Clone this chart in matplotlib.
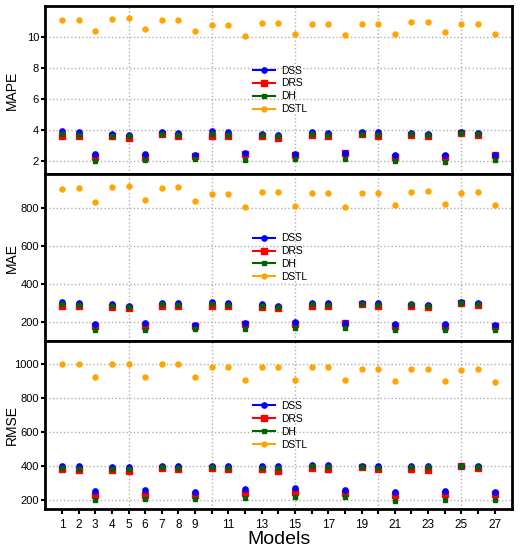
import matplotlib
matplotlib.use("Agg")
import matplotlib.pyplot as plt
from matplotlib.lines import Line2D

plt.rcParams["font.family"] = ["Liberation Sans", "DejaVu Sans"]

# =========================
# DATA
# =========================
models = list(range(1, 28))

mape_dss = [3.93, 3.85, 2.41, 3.74, 3.67, 2.43, 3.87, 3.78, 2.33, 3.89, 3.83, 2.48, 3.74, 3.67,
            2.43, 3.85, 3.78, 2.48, 3.83, 3.83, 2.37, 3.78, 3.74, 2.37, 3.83, 3.78, 2.37]
mape_drs = [3.61, 3.57, 2.26, 3.57, 3.46, 2.26, 3.72, 3.61, 2.30, 3.61, 3.57, 2.43, 3.57, 3.46,
            2.37, 3.67, 3.61, 2.48, 3.72, 3.61, 2.26, 3.67, 3.57, 2.22, 3.78, 3.67, 2.33]
mape_dh = [3.74, 3.67, 1.98, 3.61, 3.57, 2.04, 3.74, 3.67, 2.09, 3.72, 3.67, 2.04, 3.63, 3.57,
           2.09, 3.72, 3.67, 2.11, 3.74, 3.67, 1.98, 3.72, 3.67, 1.93, 3.78, 3.72, 2.04]
mape_dstl = [11.08, 11.08, 10.39, 11.19, 11.23, 10.49, 11.12, 11.12, 10.41, 10.78, 10.80, 10.08,
             10.91, 10.93, 10.19, 10.84, 10.84, 10.10, 10.84, 10.86, 10.19, 10.95, 10.97, 10.30,
             10.86, 10.86, 10.21]

mae_dss = [306, 302, 193, 294, 288, 196, 302, 299, 188, 306, 302, 196, 294, 288,
           200, 302, 299, 196, 302, 302, 191, 294, 290, 191, 306, 302, 188]
mae_drs = [285, 285, 179, 279, 274, 182, 288, 285, 182, 285, 285, 193, 279, 276,
           193, 288, 285, 196, 294, 285, 182, 285, 279, 182, 302, 290, 182]
mae_dh = [294, 290, 158, 285, 279, 161, 294, 290, 165, 294, 290, 165, 285, 281,
          170, 294, 290, 170, 294, 290, 158, 294, 285, 161, 302, 294, 161]
mae_dstl = [902, 904, 832, 911, 913, 841, 906, 908, 835, 874, 876, 803, 885, 886,
            812, 878, 881, 805, 878, 881, 814, 886, 890, 823, 881, 883, 816]

rmse_dss = [398, 398, 255, 394, 394, 259, 398, 398, 249, 401, 403, 265, 401, 403,
            269, 407, 407, 259, 398, 398, 249, 398, 398, 253, 401, 398, 245]
rmse_drs = [384, 378, 230, 378, 372, 230, 388, 384, 230, 388, 384, 243, 384, 374,
            245, 390, 384, 243, 392, 384, 230, 384, 378, 236, 398, 388, 236]
rmse_dh = [388, 384, 200, 384, 382, 204, 392, 388, 206, 392, 388, 214, 388, 388,
           220, 398, 394, 220, 394, 388, 196, 392, 392, 200, 398, 392, 200]
rmse_dstl = [1004, 1004, 925, 1002, 1004, 925, 1000, 1002, 925, 982, 984, 911, 982, 984,
             911, 982, 982, 907, 972, 972, 901, 972, 974, 901, 970, 972, 897]

xtick_labels = [str(m) if (m < 10 or m % 2 == 1) else "" for m in models]

# =========================
# STYLE
# =========================
series_style = [
    ("DSS", "#0000ff", "o", 3.8, 3),
    ("DRS", "#ff0000", "s", 4.4, 2),
    ("DH", "#006400", "s", 3.0, 4),
    ("DSTL", "#ffa500", "o", 3.6, 5),
]

panels = [
    ("MAPE", [mape_dss, mape_drs, mape_dh, mape_dstl], (1.15, 12.0), [2, 4, 6, 8, 10]),
    ("MAE", [mae_dss, mae_drs, mae_dh, mae_dstl], (100, 980), [200, 400, 600, 800]),
    ("RMSE", [rmse_dss, rmse_drs, rmse_dh, rmse_dstl], (147, 1136), [200, 400, 600, 800, 1000]),
]

fig, axes = plt.subplots(3, 1, figsize=(5.21, 5.5), dpi=100, sharex=True)
fig.subplots_adjust(left=0.087, right=0.983, top=0.989, bottom=0.0745, hspace=0)

for ax, (name, series, ylim, yticks) in zip(axes, panels):
    for vals, (lab, col, mk, ms, z) in zip(series, series_style):
        ax.plot(models, vals, linestyle="none", marker=mk, color=col,
                markersize=ms, zorder=z)
    ax.set_ylim(*ylim)
    ax.set_yticks(yticks)
    ax.set_xlim(0, 28.05)
    ax.set_ylabel(name, fontsize=10)
    ax.yaxis.set_label_coords(-0.056, 0.5)
    ax.grid(True, axis="y", linestyle=":", color="#b0b0b0", linewidth=1)
    for gx in [5, 10, 15, 20, 25]:
        ax.axvline(gx, linestyle=":", color="#b0b0b0", linewidth=1, zorder=0)
    for sp in ax.spines.values():
        sp.set_linewidth(2)
    ax.tick_params(axis="y", labelsize=8, length=3, width=1.5, pad=1.5)
    ax.tick_params(axis="x", length=3.5, width=1.5)

    handles = [Line2D([0], [0], color=col, marker=mk, markersize=ms, linewidth=1.5)
               for (lab, col, mk, ms, z) in series_style]
    ax.legend(handles, [s[0] for s in series_style], loc="center", frameon=False,
              fontsize=7.4, handlelength=2.1, handletextpad=0.6, labelspacing=0.28,
              bbox_to_anchor=(0.503, 0.5))

axes[-1].set_xticks(models)
axes[-1].set_xticklabels(xtick_labels, fontsize=8.5)
axes[-1].set_xlabel("Models", fontsize=14, labelpad=0)

fig.savefig("out.png", dpi=100)
